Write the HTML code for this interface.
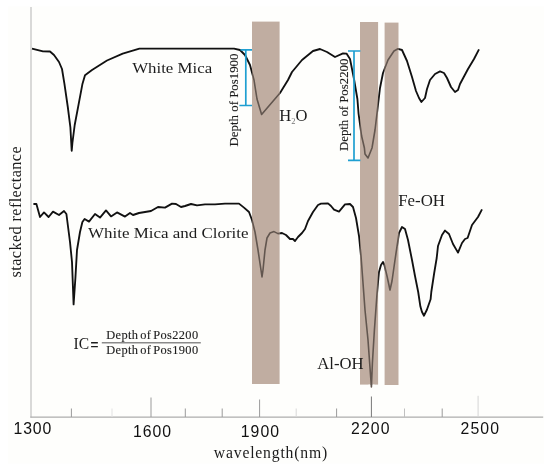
<!DOCTYPE html>
<html><head><meta charset="utf-8">
<style>
html,body{margin:0;padding:0;background:#fff;}
body{width:550px;height:467px;overflow:hidden;}
svg{display:block;}
text{font-family:"Liberation Serif",serif;fill:#1c1c1c;}
.ax{font-family:"Liberation Sans",sans-serif;fill:#111;}
</style></head><body>
<svg width="550" height="467" viewBox="0 0 550 467">
<rect x="0" y="0" width="550" height="467" fill="#ffffff"/>
<rect x="8" y="6.5" width="536" height="457" fill="#fefefc"/>
<!-- axes -->
<line x1="31" y1="7" x2="31" y2="417.6" stroke="#c9c9c9" stroke-width="1.4"/>
<line x1="30.3" y1="417.1" x2="543.2" y2="417.1" stroke="#adadad" stroke-width="1.4"/>
<g stroke="#9a9a9a" stroke-width="1">
<line x1="71.4" y1="408.5" x2="71.4" y2="417"/>
<line x1="112" y1="408.5" x2="112" y2="417" stroke="#e2e2e2"/>
<line x1="151" y1="397.5" x2="151" y2="417"/>
<line x1="185.3" y1="408.5" x2="185.3" y2="417"/>
<line x1="222.2" y1="408.5" x2="222.2" y2="417"/>
<line x1="259.6" y1="399.5" x2="259.6" y2="417"/>
<line x1="296.2" y1="408.5" x2="296.2" y2="417" stroke="#d8d8d8"/>
<line x1="336.6" y1="408.5" x2="336.6" y2="417"/>
<line x1="371.4" y1="396.5" x2="371.4" y2="417" stroke="#777"/>
<line x1="404.5" y1="408.5" x2="404.5" y2="417" stroke="#c0c0c0"/>
<line x1="442.2" y1="408.5" x2="442.2" y2="417"/>
<line x1="478.1" y1="395.8" x2="478.1" y2="417" stroke="#d5d5d5"/>
</g>
<!-- curves -->
<g fill="none" stroke="#111" stroke-width="1.85" stroke-linejoin="round" stroke-linecap="butt">
<path id="c1" d="M32,48.6 L43,51.3 L50,51.5 L54,55 L59,62 L62,69 L64.4,83.7 L67.8,107 L70.4,127.5 L71.7,150.8 L72.4,143 L74.7,125 L78.6,104.3 L82.5,83.7 L85,75.2 L92,70 L107,60.5 L122.7,53.7 L139.4,48.6 L234,48.6 L240,50 L245,55 L250,65 L254,80 L257,99 L261.6,114.4 L280,93 L288,80 L292,72 L302,60 L313,51 L320,49 L327,52 L335,57 L343,53.4 L346.5,53.6 L350,59 L354,79 L357.4,99 L358.6,114 L361.6,136 L364.4,148 L365,154 L368,158 L372,148 L375,130 L377.4,110 L380,88 L383,73 L388,60 L394,51 L398,48.8 L402,50 L407,61 L412,77 L416,91 L419,98 L421.4,102 L425,98 L427,89 L430,80 L435,74 L440,71.4 L444,73 L447,78 L451,87 L455,92 L458,90 L460,84 L468,69 L474,59 L479,49.4"/>
<path id="c2" d="M33.4,204 L36.4,204 L40,217 L44,212.4 L48.6,217 L53,211.6 L59,215 L64,211 L66.4,214 L70,242 L72,262 L73.6,304.4 L75.4,278 L77,250 L80,232 L82.4,222 L84.6,219 L89,221.6 L95,214 L100,217.6 L106,210.4 L111,216.4 L117,212.4 L125,216.6 L130,213 L133,215 L139,213 L151,211 L158,207 L165,207.6 L172,203.6 L176,204 L181,207 L185,206 L191,204 L197,205.4 L205,204.4 L215,204.4 L225,203.6 L239,203.6 L244,207.6 L249,212 L252,220 L255,232 L258,250 L261,270 L262,277 L263,270 L265,250 L267,238 L270,233 L274,231.6 L278,233.6 L282,233 L286,235 L290,239 L293,239 L295,241 L298,237 L302,233 L305,229 L308,221 L313,212 L318,205 L321,203.6 L328,203.4 L331,206 L334,209.6 L339,211.6 L345,204.4 L350,204 L353,207 L356,218 L359,236 L361,256 L363,283 L365,310 L368,340 L371.4,387 L372.4,363 L374.4,330 L377,294 L378.4,278 L379,272 L381,265 L383,262 L384.4,265 L387,276 L390,290 L392,281 L395,260 L399,233 L402,227 L405,229 L408,240 L412,260 L415,276 L414.6,274 L418.2,292 L420.4,306.6 L421.9,311.7 L424,315.7 L427,309.5 L430.6,299.3 L431.3,292 L434.2,273 L436.7,258 L438,246 L442,235 L445,230.6 L449,234 L453,244 L458,252.6 L462,243 L465,239 L467.6,238 L472,225 L478,217 L482,209.4"/>
</g>
<!-- bands -->
<g fill="#c0ada1">
<rect x="252" y="21.6" width="27.6" height="362.4"/>
<rect x="360" y="22" width="18.1" height="362.6"/>
<rect x="384.6" y="22.6" width="13.9" height="362.4"/>
</g>
<rect x="368.5" y="384.6" width="6" height="5" fill="#fefefc"/>
<clipPath id="bc"><rect x="252" y="21.6" width="27.6" height="362.4"/><rect x="360" y="22" width="18.1" height="368"/><rect x="384.6" y="22.6" width="13.9" height="362.4"/></clipPath>
<g clip-path="url(#bc)" fill="none" stroke="#62564f" stroke-width="1.6" stroke-linejoin="round"><use href="#c1"/><use href="#c2"/></g>
<!-- brackets -->
<g stroke="#1f9fd1" stroke-width="1.7" fill="none">
<path d="M240.6,49.8 H252 M245.8,49.8 V105.5 M239.4,105.5 H252"/>
<path d="M348,51 H360.4 M354,51 V160.4 M348,160.4 H360.4"/>
</g>
<!-- text -->
<text x="132.2" y="72.6" font-size="15.4" textLength="80" lengthAdjust="spacingAndGlyphs">White Mica</text>
<text x="88" y="238.3" font-size="15.4" textLength="160.5" lengthAdjust="spacingAndGlyphs">White Mica and Clorite</text>
<text x="279.2" y="120.6" font-size="16.6">H<tspan font-size="8.5" dy="3.4" dx="0" fill="#777">2</tspan><tspan dy="-3.4" dx="0">O</tspan></text>
<text x="398.2" y="205.8" font-size="17" textLength="46.8" lengthAdjust="spacingAndGlyphs">Fe-OH</text>
<text x="317.2" y="369.2" font-size="17" textLength="46.4" lengthAdjust="spacingAndGlyphs">Al-OH</text>
<text transform="translate(237.7,146.5) rotate(-90)" font-size="13" textLength="93" lengthAdjust="spacingAndGlyphs" stroke="#1c1c1c" stroke-width="0.12">Depth of Pos1900</text>
<text transform="translate(347.8,151) rotate(-90)" font-size="13" textLength="92.3" lengthAdjust="spacingAndGlyphs" stroke="#1c1c1c" stroke-width="0.12">Depth of Pos2200</text>
<text transform="translate(21.2,277.4) rotate(-90)" font-size="16.2" textLength="131" lengthAdjust="spacing">stacked reflectance</text>
<text x="73.6" y="348.9" font-size="16.5" textLength="15.6" lengthAdjust="spacingAndGlyphs">IC</text>
<text x="90.6" y="348.6" font-size="13.6" font-weight="bold" style="font-family:'Liberation Sans',sans-serif">=</text>
<line x1="101.8" y1="342.8" x2="200.8" y2="342.8" stroke="#8a8a8a" stroke-width="1.5"/>
<text x="106.3" y="338.9" font-size="12.4" textLength="91.8" lengthAdjust="spacing" word-spacing="-1.6" stroke="#1c1c1c" stroke-width="0.12">Depth of Pos2200</text>
<text x="106.3" y="354.2" font-size="12.4" textLength="91.8" lengthAdjust="spacing" word-spacing="-1.6" stroke="#1c1c1c" stroke-width="0.12">Depth of Pos1900</text>
<text x="213.8" y="458.2" font-size="15.7" textLength="113.4" lengthAdjust="spacing">wavelength(nm)</text>
<g class="ax" font-size="15.8">
<text class="ax" x="13.4" y="434.4" textLength="38" lengthAdjust="spacing">1300</text>
<text class="ax" x="132.9" y="437" textLength="38.2" lengthAdjust="spacing">1600</text>
<text class="ax" x="240.8" y="436.5" textLength="38.2" lengthAdjust="spacing">1900</text>
<text class="ax" x="351" y="434.4" textLength="38.6" lengthAdjust="spacing">2200</text>
<text class="ax" x="460.5" y="434.4" textLength="38.6" lengthAdjust="spacing">2500</text>
</g>
</svg>
</body></html>
